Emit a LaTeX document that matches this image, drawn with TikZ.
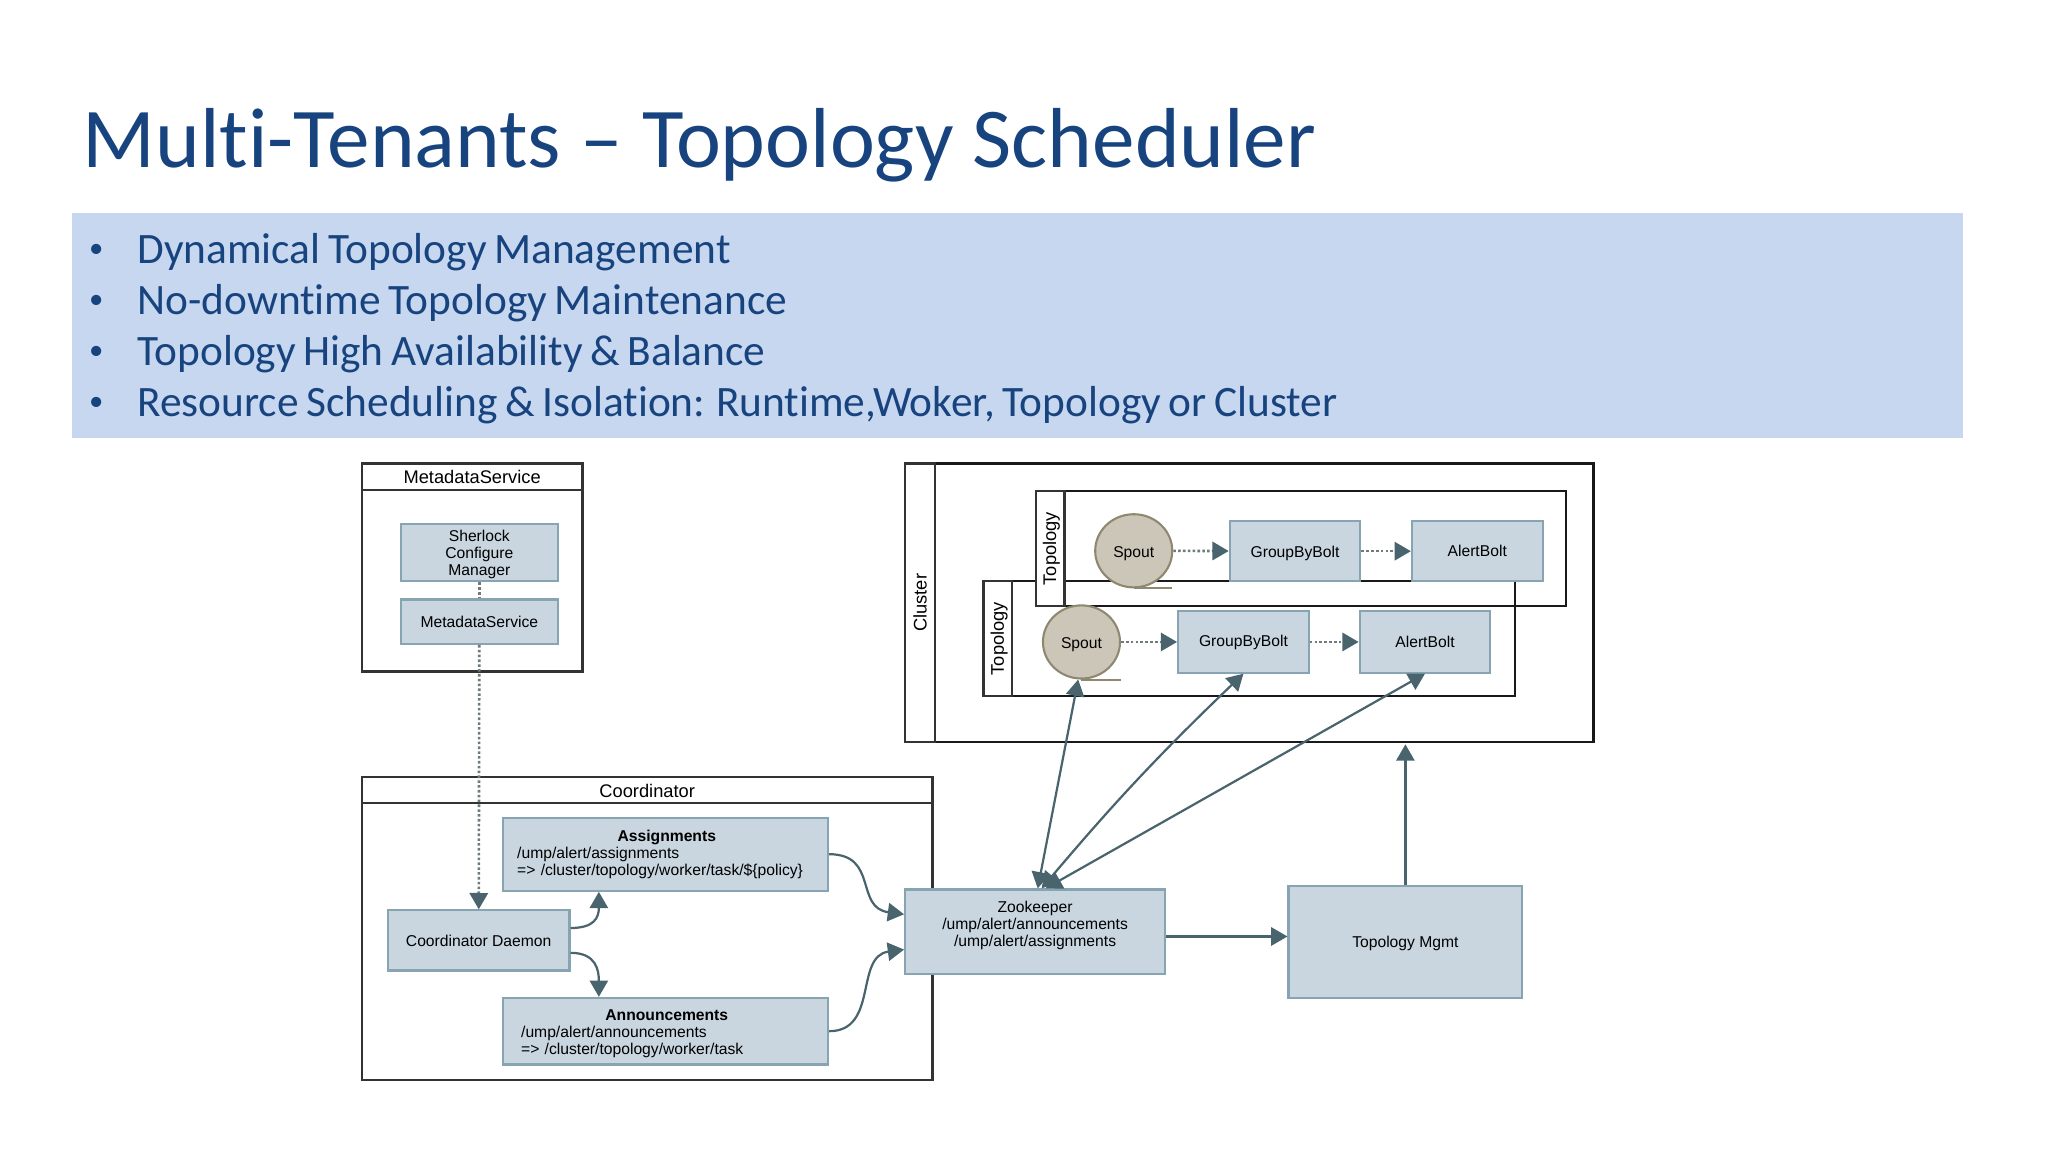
\documentclass[tikz,border=0pt]{standalone}
\usepackage{fontspec}
\usetikzlibrary{arrows.meta,shapes.geometric}
\setmainfont[Ligatures=NoCommon]{Carlito}
\newfontfamily\bulletfont[Ligatures=NoCommon,WordSpace=0.78]{Carlito}
\newfontfamily\diagfont{Liberation Sans}
\newcommand{\lift}{\rule{0pt}{12pt}}
\definecolor{titleblue}{HTML}{17437F}
\definecolor{bandblue}{HTML}{C6D7EF}
\definecolor{boxfill}{HTML}{C9D6E0}
\definecolor{boxedge}{HTML}{86A4B2}
\definecolor{spoutfill}{HTML}{CBC6B8}
\definecolor{spoutedge}{HTML}{8E8870}
\definecolor{wirecol}{HTML}{4A646E}
\definecolor{dotcol}{HTML}{6F7A7E}
\tikzset{
  >={Triangle[length=12.5pt,width=14pt,color=wirecol]},
  bullettext/.style={anchor=base west,inner sep=0pt,text=titleblue,font=\bulletfont\fontsize{33.2}{36}\selectfont},
  bulletdot/.style={anchor=base west,inner sep=0pt,text=titleblue,font=\bulletfont\fontsize{22}{24}\selectfont},
  svcbox/.style={draw=boxedge,fill=boxfill,line width=1.6pt,inner sep=0pt,align=center,font=\diagfont\fontsize{12}{13}\selectfont},
  framebox/.style={draw=black!80,line width=1.8pt,inner sep=0pt},
  headbox/.style={framebox,fill=white,font=\diagfont\fontsize{14}{15}\selectfont},
  spoutnode/.style={ellipse,draw=spoutedge,fill=spoutfill,line width=1.6pt,inner sep=0pt,minimum width=59pt,minimum height=56pt,font=\diagfont\fontsize{12}{13}\selectfont},
  wire/.style={draw=wirecol,line width=1.7pt},
  dotwire/.style={draw=dotcol,line width=2pt,dash pattern=on 2pt off 1.7pt},
}
\begin{document}
\begin{tikzpicture}[x=1pt,y=-1pt]
  \useasboundingbox (0,0) rectangle (1568,882);
  \node[anchor=base west,inner sep=0pt,text=titleblue,font=\fontsize{65.2}{70}\selectfont] (title) at (63,128) {Multi-Tenants -- Topology Scheduler};
  \fill[bandblue] (55,163) rectangle (1503,335);
  \node[bulletdot] (bullA) at (68,197) {•};
  \node[bulletdot] (bullB) at (68,236) {•};
  \node[bulletdot] (bullC) at (68,275) {•};
  \node[bulletdot] (bullD) at (68,314) {•};
  \node[bullettext] (lineA) at (105,201.5) {Dynamical Topology Management};
  \node[bullettext] (lineB) at (105,240.5) {No-downtime Topology Maintenance};
  \node[bullettext] (lineC) at (105,279.7) {Topology High Availability \& Balance};
  \node[bullettext] (lineD) at (105,319) {Resource Scheduling \& Isolation: Runtime,Woker, Topology or Cluster};

  \node[framebox,minimum width=169pt,minimum height=139pt] (metabody) at (361.5,444.5) {};
  \node[headbox,minimum width=169pt,minimum height=20pt] (metahead) at (361.5,365) {MetadataService};
  \node[svcbox,minimum width=120pt,minimum height=44pt] (sherlock) at (367,423) {\lift Sherlock\\Configure\\Manager};
  \node[svcbox,minimum width=120pt,minimum height=34pt] (metasvc) at (367,476) {MetadataService};

  \node[framebox,minimum width=437pt,minimum height=212pt] (coordbody) at (495.5,721) {};
  \node[headbox,minimum width=437pt,minimum height=20pt] (coordhead) at (495.5,605) {\lift Coordinator};
  \node[svcbox,minimum height=56pt,text width=227pt,inner xsep=11pt,align=left] (assign) at (509.5,654) {\makebox[229pt]{\textbf{Assignments}}\\/ump/alert/assignments\\=> /cluster/topology/worker/task/\$\{policy\}};
  \node[svcbox,minimum height=51pt,text width=221pt,inner xsep=14pt,align=left] (announce) at (509.5,789.5) {\lift\makebox[223pt]{\textbf{Announcements}}\\/ump/alert/announcements\\=> /cluster/topology/worker/task};
  \node[svcbox,minimum width=139pt,minimum height=46pt] (daemon) at (366.5,720) {Coordinator Daemon};
  \node[svcbox,minimum width=199pt,minimum height=65pt] (zoo) at (792.5,713.5) {Zookeeper\\/ump/alert/announcements\\/ump/alert/assignments\\\mbox{}};
  \node[svcbox,minimum width=179pt,minimum height=86pt] (mgmt) at (1076,721) {\lift Topology Mgmt};

  \node[framebox,draw=black!90,minimum width=504pt,minimum height=213pt] (cluster) at (968,461.5) {};
  \node[headbox,rotate=90,minimum width=213pt,minimum height=23pt] (clusterhead) at (704.5,461.5) {Cluster};
  \node[framebox,draw=black!90,minimum width=385pt,minimum height=88pt] (topobody) at (967.5,489) {};
  \node[headbox,rotate=90,minimum width=88pt,minimum height=22pt] (topohead) at (764,489) {\lift Topology};
  \node[framebox,draw=black!90,minimum width=384pt,minimum height=88pt] (toptopobody) at (1007,420) {};
  \node[headbox,rotate=90,minimum width=88pt,minimum height=22pt] (toptopohead) at (804,420) {\lift Topology};

  \node[spoutnode] (spoutA) at (868,421.7) {\lift Spout};
  \draw[draw=spoutedge,line width=1.6pt] (spoutA.south) -- ++(29,0);
  \node[svcbox,minimum width=100pt,minimum height=46pt] (groupA) at (991.5,422) {\lift GroupByBolt};
  \node[svcbox,minimum width=100pt,minimum height=46pt] (alertA) at (1131,422) {AlertBolt};
  \node[spoutnode] (spoutB) at (828,491.5) {\lift Spout};
  \draw[draw=spoutedge,line width=1.6pt] (spoutB.south) -- ++(30,0);
  \node[svcbox,minimum width=100pt,minimum height=47pt] (groupB) at (952,491.5) {GroupByBolt};
  \node[svcbox,minimum width=100pt,minimum height=47pt] (alertB) at (1091,491.5) {AlertBolt};

  \draw[dotwire] (sherlock) -- (metasvc);
  \draw[dotwire,->] (metasvc) -- (daemon);
  \draw[dotwire,->] (spoutA) -- (groupA);
  \draw[dotwire,->] (groupA) -- (alertA);
  \draw[dotwire,->] (spoutB) -- (groupB);
  \draw[dotwire,->] (groupB) -- (alertB);

  \draw[wire,->] ([yshift=9.5pt]daemon.east) .. controls +(18,0) and +(0,20) .. ([xshift=-51pt]assign.south);
  \draw[wire,->] ([yshift=-9.5pt]daemon.east) .. controls +(20,0) and +(0,-20) .. ([xshift=-51pt]announce.north);
  \draw[wire,->] (assign.east) .. controls +(38,0) and +(-38,-5) .. ([yshift=13.5pt]zoo.west);
  \draw[wire,->] (announce.east) .. controls +(38,0) and +(-38,5) .. ([yshift=-13.5pt]zoo.west);
  \draw[wire,<->] ([xshift=2pt]zoo.north) -- ([xshift=-2.5pt]spoutB.south);
  \draw[wire,<->] ([xshift=5pt]zoo.north) to[bend left=3] (groupB.south);
  \draw[wire,<->] ([xshift=8pt]zoo.north) -- (alertB.south);
  \draw[wire,->] ([yshift=-3.5pt]zoo.east) -- ([yshift=-3.5pt]zoo.east -| mgmt.west);
  \draw[wire,->] (mgmt.north) -- ([yshift=-1pt]mgmt.north |- cluster.south);
\end{tikzpicture}
\end{document}
